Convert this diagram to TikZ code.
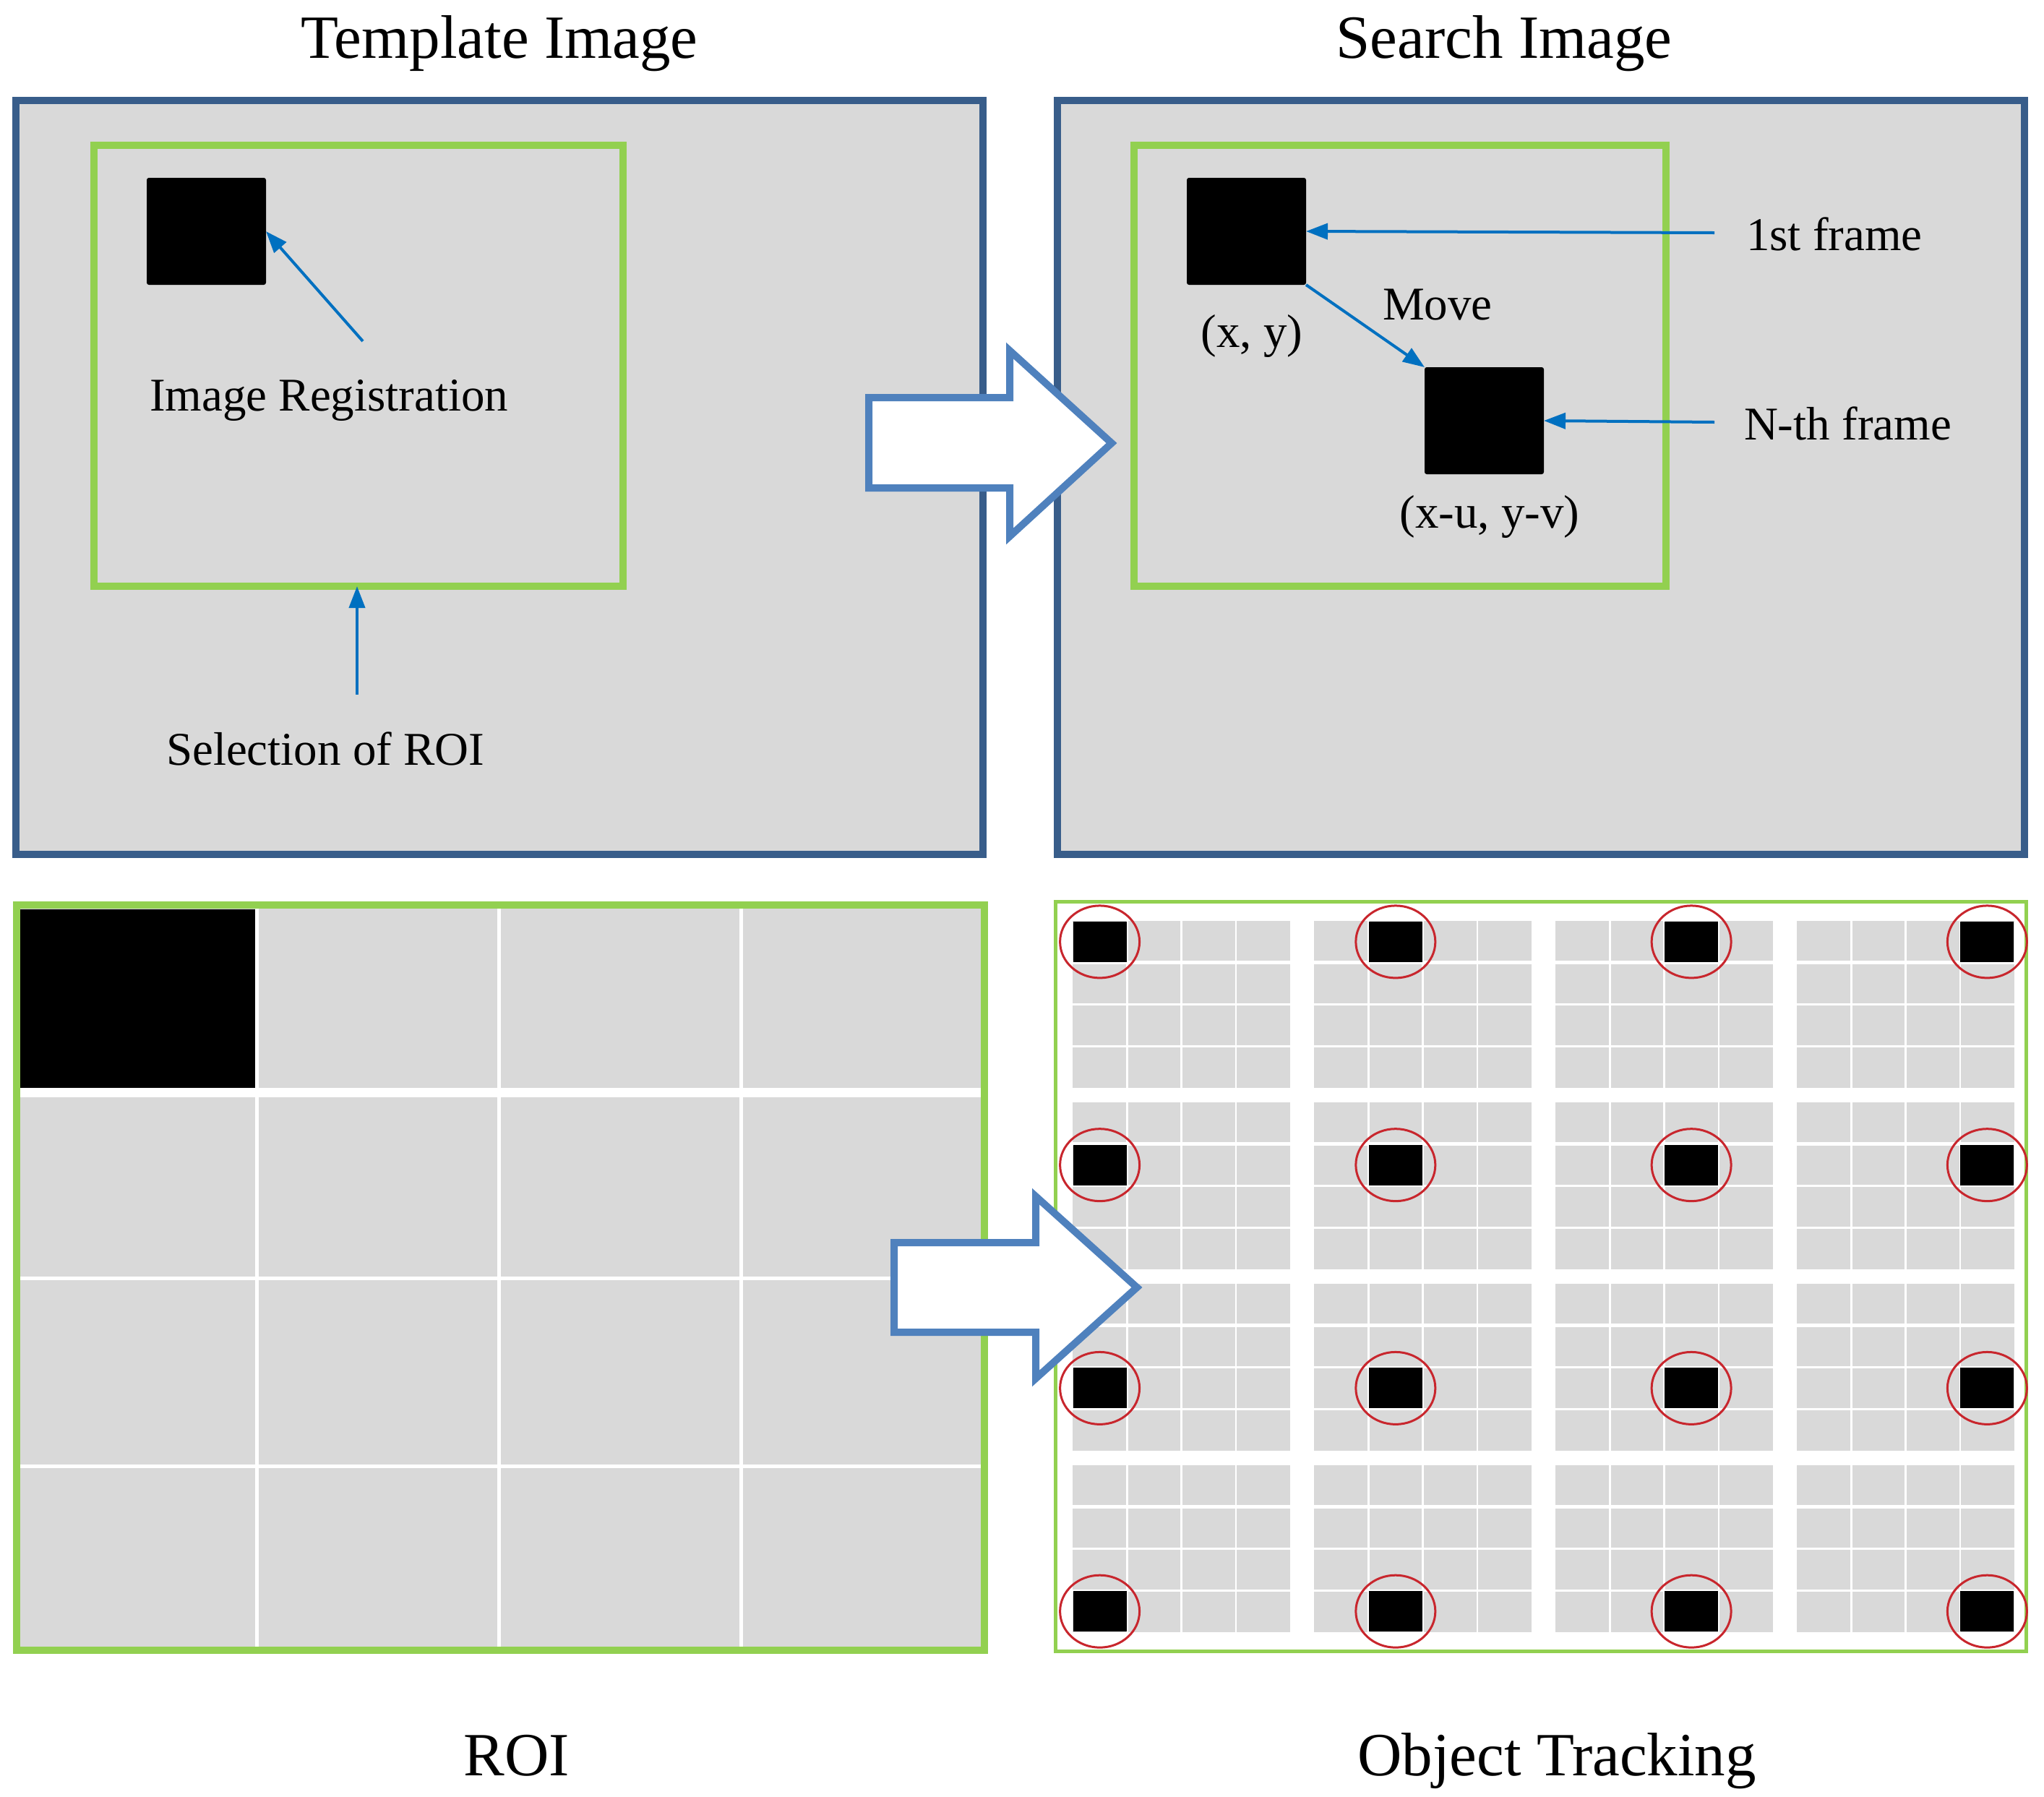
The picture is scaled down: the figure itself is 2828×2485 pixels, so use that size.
\documentclass[tikz,border=0pt]{standalone}
\usepackage{fontspec}
\setmainfont{Liberation Serif}
\usetikzlibrary{arrows.meta}
\definecolor{panelblue}{RGB}{56,93,138}
\definecolor{bigblue}{RGB}{79,129,189}
\definecolor{roigreen}{RGB}{146,208,80}
\definecolor{cellgrey}{RGB}{217,217,217}
\definecolor{linkblue}{RGB}{0,112,192}
\definecolor{markred}{RGB}{200,38,45}
\begin{document}
\begin{tikzpicture}[x=1pt,y=-1pt,
  panelbox/.style={draw=panelblue, line width=10pt, fill=cellgrey, rectangle, inner sep=0pt, outer sep=0pt},
  roibox/.style={draw=roigreen, line width=10pt, rectangle, inner sep=0pt, outer sep=0pt},
  tgtbox/.style={fill=black, rectangle, inner sep=0pt, outer sep=0pt, rounded corners=3pt, minimum width=165pt, minimum height=148pt},
  hitbox/.style={fill=black, rectangle, inner sep=0pt, outer sep=0pt, minimum width=74pt, minimum height=56pt},
  linkarrow/.style={draw=linkblue, line width=4pt, -{Triangle[length=30pt,width=22pt]}},
  bigarrow/.style={draw=bigblue, fill=white, line width=10pt, line join=miter, miter limit=10},
  lbl/.style={inner sep=0pt, outer sep=0pt, font=\fontsize{65}{78}\selectfont},
  ttl/.style={inner sep=0pt, outer sep=0pt, font=\fontsize{85}{100}\selectfont},
]
\useasboundingbox (0,0) rectangle (2828,2485);

% ---------- titles ----------
\node[ttl, anchor=base] (ttlTpl) at (691,80) {Template Image};
\node[ttl, anchor=base] (ttlSrch) at (2081,80) {Search Image};
\node[ttl, anchor=base] (ttlRoi) at (715,2456) {ROI};
\node[ttl, anchor=base] (ttlTrack) at (2154,2456) {Object Tracking};

% ---------- top-left panel: template image ----------
\node[panelbox, minimum width=1338pt, minimum height=1043pt] (tplPanel) at (691,660.5) {};
\node[roibox, minimum width=732pt, minimum height=610pt] (roiA) at (496,506) {};
\node[tgtbox] (tgtA) at (285.5,320) {};
\node[lbl, anchor=base west] (regLbl) at (207,568) {Image Registration};
\node[lbl, anchor=base west] (selLbl) at (230,1058) {Selection of ROI};
\coordinate (regTail) at (502,472);
\coordinate (selTail) at (494,961);
\draw[linkarrow] (regTail) -- (tgtA.east);
\draw[linkarrow] (selTail) -- (selTail |- roiA.south);

% ---------- top-right panel: search image ----------
\node[panelbox, minimum width=1338pt, minimum height=1043pt] (srchPanel) at (2132,660.5) {};
\node[roibox, minimum width=736pt, minimum height=610pt] (roiB) at (1937,506) {};
\node[tgtbox] (tgtB) at (1724.5,320) {};
\node[tgtbox] (tgtC) at (2053.5,582) {};
\node[lbl, anchor=base west] (firstLbl) at (2416,346) {1st frame};
\node[lbl, anchor=base west] (nthLbl) at (2413,608) {N-th frame};
\node[lbl, anchor=base west] (moveLbl) at (1913,442) {Move};
\node[lbl, anchor=base] (xyLbl) at (1732,480) {(x, y)};
\node[lbl, anchor=base] (xuvLbl) at (2061,730) {(x-u, y-v)};
\coordinate (firstTail) at (2372,322);
\coordinate (nthTail) at (2372,584);
\draw[linkarrow] (firstTail) -- (tgtB.east);
\draw[linkarrow] (nthTail) -- (tgtC.east);
\draw[linkarrow] (tgtB.south east) -- (tgtC.north west);

% ---------- top big arrow ----------
\draw[bigarrow] (1202,550) -- (1397,550) -- (1397,485) -- (1538,613) -- (1397,742) -- (1397,675) -- (1202,675) -- cycle;

% ---------- bottom-left panel: ROI grid ----------
\fill[cellgrey] (23,1252) rectangle (1362,2283);
\foreach \gx in {355,690,1025}{\draw[white, line width=5pt] (\gx,1257) -- (\gx,2278);}
\draw[white, line width=13pt] (28,1511) -- (1357,1511);
\foreach \gy in {1768,2028}{\draw[white, line width=5pt] (28,\gy) -- (1357,\gy);}
\node[fill=black, inner sep=0pt, outer sep=0pt, minimum width=325pt, minimum height=247pt] (roiTarget) at (190.5,1381.5) {};
\node[roibox, minimum width=1339pt, minimum height=1031pt] (roiPanel) at (692.5,1767.5) {};

% ---------- bottom-right panel: object tracking ----------
\node[draw=roigreen, line width=5pt, fill=white, rectangle, inner sep=0pt, outer sep=0pt, minimum width=1343pt, minimum height=1037pt] (trackPanel) at (2131.5,1765.5) {};
\foreach \i in {0,1,2,3}{
  \foreach \j in {0,1,2,3}{
    \pgfmathsetmacro{\bx}{1484+334*\j}
    \pgfmathsetmacro{\by}{1274+251*\i}
    \fill[cellgrey] (\bx,\by) rectangle ++(301,231);
    \foreach \k in {1,2,3}{\draw[white, line width=2.5pt] ({\bx+75.25*\k},\by) -- ++(0,231);}
    \draw[white, line width=5pt] (\bx,{\by+57.75}) -- ++(301,0);
    \foreach \k in {2,3}{\draw[white, line width=2.5pt] (\bx,{\by+57.75*\k}) -- ++(301,0);}
    \node[hitbox] (hit-\i-\j) at ({\bx+75.25*\j+37.6},{\by+57.75*\i+28.9}) {};
  }
}
\foreach \i in {0,1,2,3}{
  \foreach \j in {0,1,2,3}{
    \draw[markred, line width=3pt] (hit-\i-\j.center) ellipse [x radius=55, y radius=50];
  }
}

% ---------- bottom big arrow ----------
\draw[bigarrow] (1237,1719) -- (1433,1719) -- (1433,1655) -- (1573,1781) -- (1433,1907) -- (1433,1843) -- (1237,1843) -- cycle;
\end{tikzpicture}
\end{document}
